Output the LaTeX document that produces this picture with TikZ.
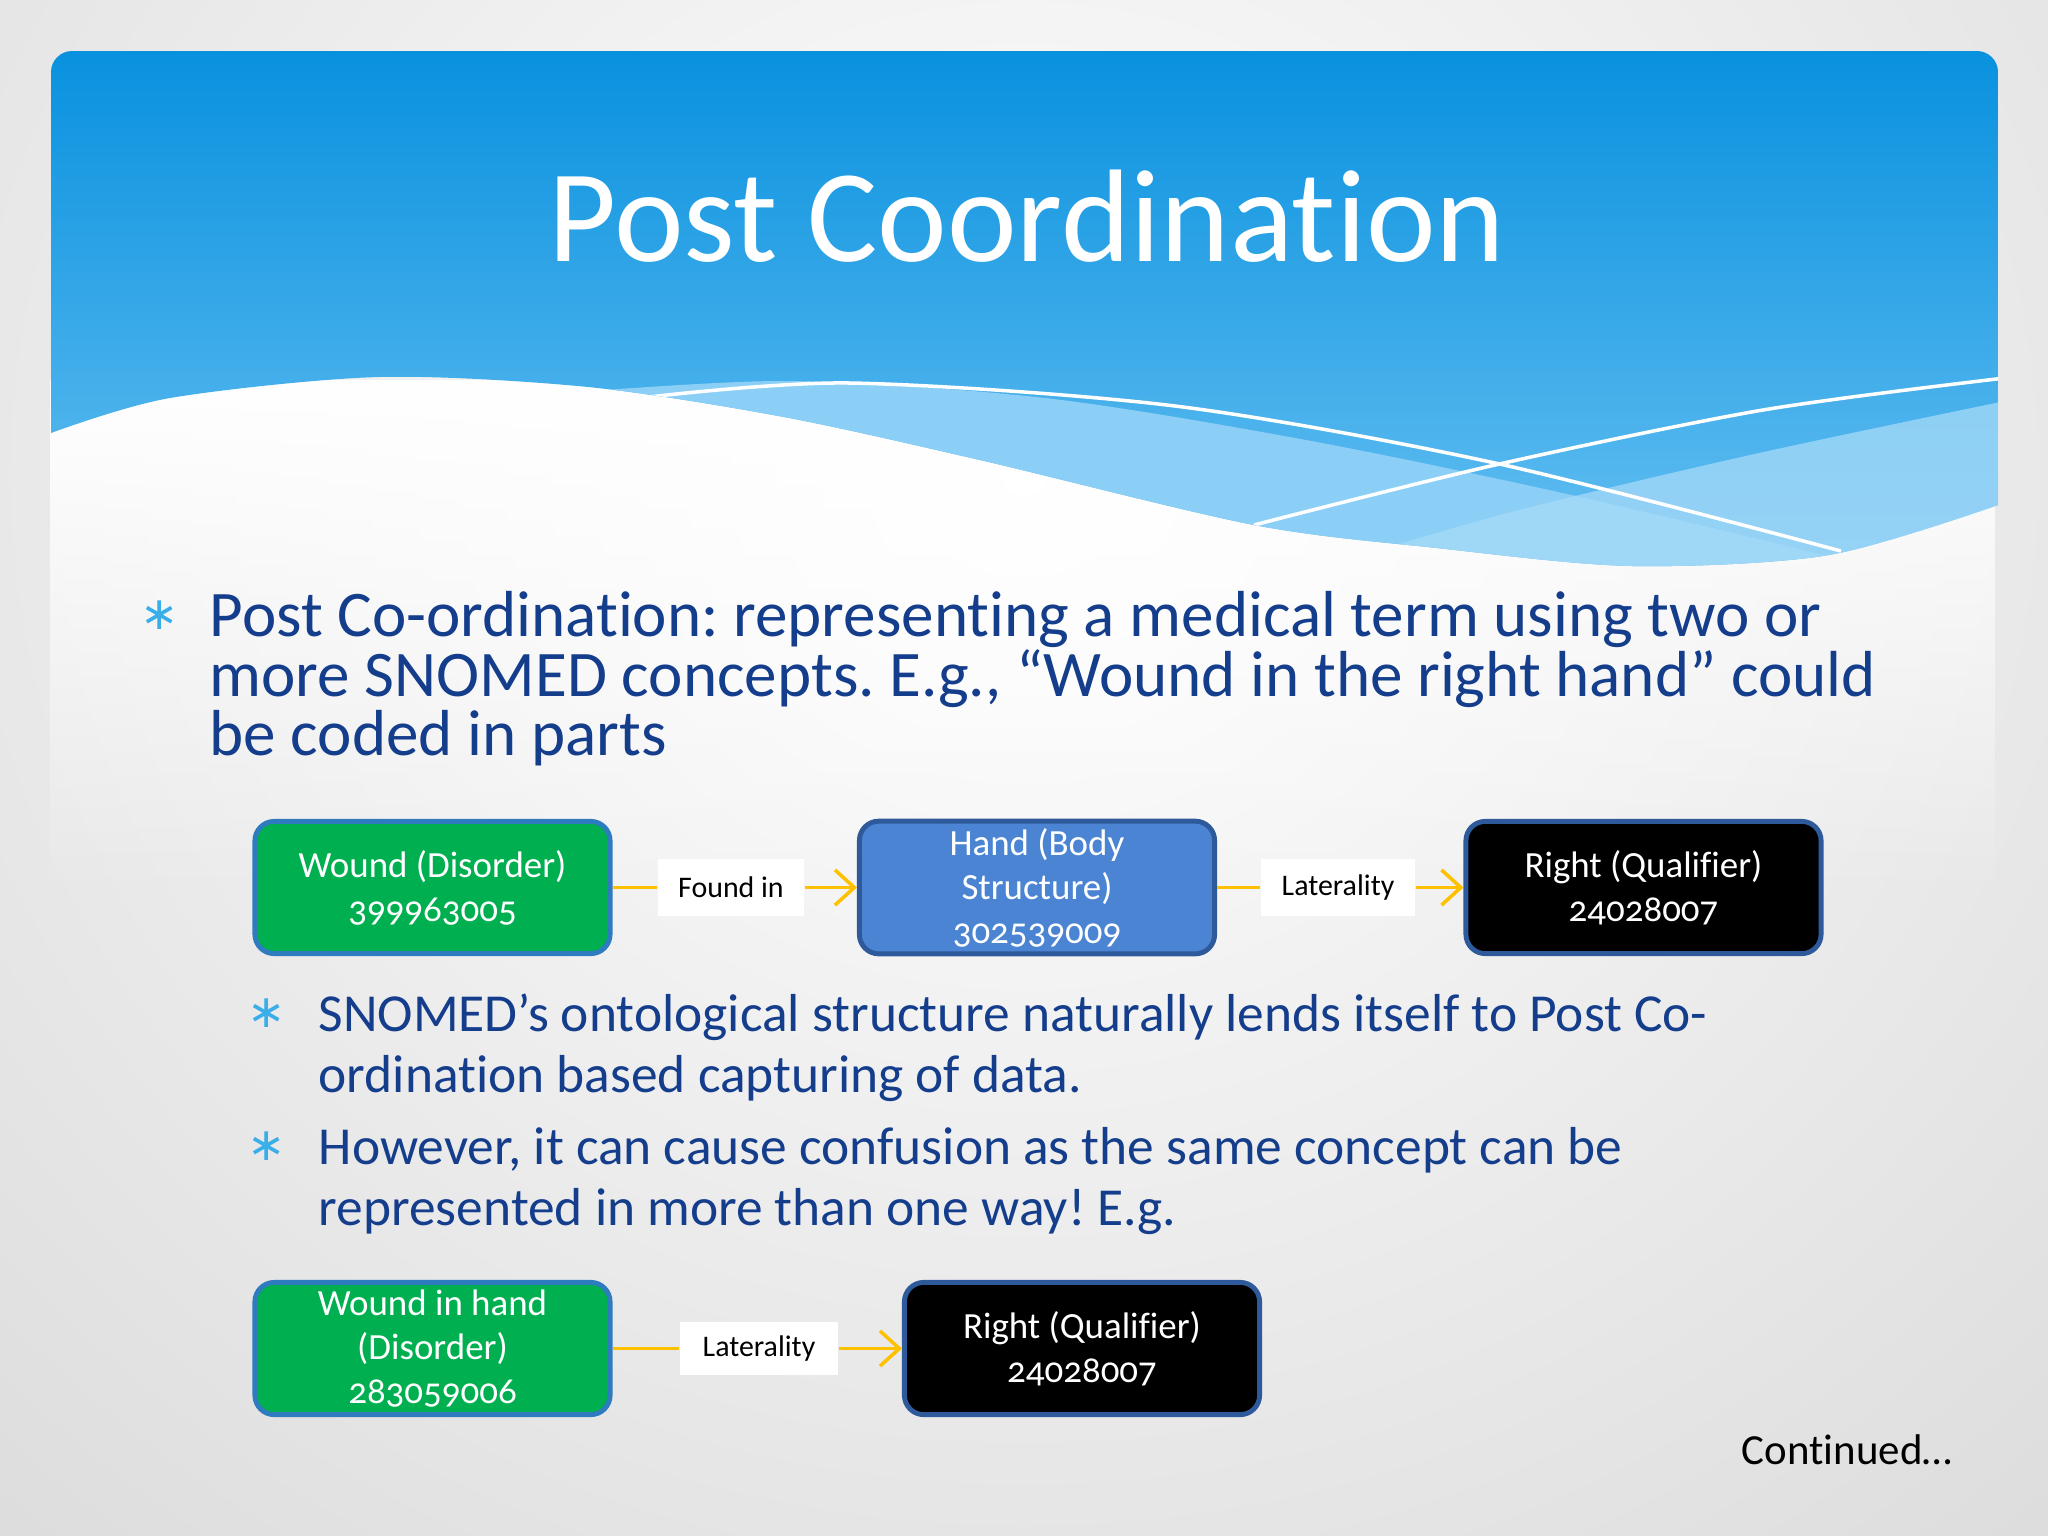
\documentclass[tikz,border=0pt]{standalone}
\usepackage{fontspec}
\setmainfont{Carlito}[Numbers=OldStyle, Ligatures=NoCommon]
\newfontfamily\symfont{DejaVu Sans}
\usetikzlibrary{arrows.meta,fadings}
\frenchspacing
\definecolor{bandtop}{HTML}{0790DE}
\definecolor{bandbot}{HTML}{66C0F2}
\definecolor{ribA}{HTML}{8CCFF6}
\definecolor{ribB}{HTML}{A6DAF8}
\definecolor{txtblue}{HTML}{143D8C}
\definecolor{astblue}{HTML}{3AAEE8}
\definecolor{boxgreen}{HTML}{00B050}
\definecolor{greenedge}{HTML}{2E7BC0}
\definecolor{handfill}{HTML}{4A84D2}
\definecolor{darkedge}{HTML}{2E5A9C}
\definecolor{arrowyel}{HTML}{FFC000}
\tikzset{
  conceptbox/.style={rectangle, rounded corners=5.5pt, line width=1.4pt,
    minimum width=101pt, minimum height=37.6pt, inner sep=2pt,
    text=white, align=center, font=\fontsize{10.5}{12.5}\selectfont},
  greenbox/.style={conceptbox, fill=boxgreen, draw=greenedge},
  bluebox/.style={conceptbox, fill=handfill, draw=darkedge},
  blackbox/.style={conceptbox, fill=black, draw=darkedge},
  rellabel/.style={rectangle, fill=white, inner sep=0pt, minimum height=16pt,
    text=black, font=\fontsize{8.5}{10}\selectfont},
  conn/.style={draw=arrowyel, line width=1pt},
  connarrow/.style={conn, -{Straight Barb[length=5.5pt,width=10pt]}},
  mainline/.style={anchor=base west, inner sep=0pt, text=txtblue,
    font=\fontsize{18.5}{20}\selectfont\frenchspacing},
  subline/.style={anchor=base west, inner sep=0pt, text=txtblue,
    font=\fontsize{15.2}{16}\selectfont\frenchspacing},
  bulletmark/.style={inner sep=0pt, text=astblue, font=\symfont\fontsize{13}{13}\selectfont},
  waveline/.style={draw=white, line width=1pt}
}
\begin{document}
\begin{tikzpicture}[x=0.01cm,y=-0.01cm]
\useasboundingbox (0,0) rectangle (2048,1536);
% background
\begin{scope}
\clip (0,0) rectangle (2048,1536);
\fill[white] (0,0) rectangle (2048,1536);
\shade[inner color=white, outer color=black!15] (-700,-1100) rectangle (2748,2050);
\fill[white, path fading=south] (51,380) rectangle (1998,900);
\end{scope}
% header band
\begin{scope}
\clip (51,433) [rounded corners=6pt] -- (51,51) -- (1998,51) [sharp corners] -- (1998,505)
  -- plot[smooth] coordinates {(1998,505) (1829,555) (1632,566) (1437,548) (1254,525) (980,460) (784,417) (588,387) (379,377) (170,398) (51,433)} -- cycle;
\shade[top color=bandtop, bottom color=bandbot] (40,40) rectangle (2010,580);
\fill[ribA] plot[smooth] coordinates {(540,395) (784,381) (1045,398) (1306,440) (1567,494) (1845,560)} -- (1845,700) -- (540,700) -- cycle;
\fill[ribB, opacity=0.75] plot[smooth] coordinates {(1280,580) (1500,515) (1750,455) (2010,400)} -- (2010,700) -- (1280,700) -- cycle;
\draw[waveline] plot[smooth] coordinates {(640,398) (849,383) (1175,406) (1495,463) (1841,551)};
\draw[waveline] plot[smooth] coordinates {(1254,525) (1495,465) (1763,410) (2005,378)};
\end{scope}
% title
\node[anchor=base, inner sep=0pt, text=white, font=\fontsize{37.5}{40}\selectfont] (title) at (1027,261) {Post Coordination};
% main bullet
\node[bulletmark] (b1) at (160,615) {∗};
\node[mainline] (l1) at (209,636) {Post Co-ordination: representing a medical term using two or};
\node[mainline] (l2) at (209,696) {more SNOMED concepts. E.g., “Wound in the right hand” could};
\node[mainline] (l3) at (209,755) {be coded in parts};
% first diagram
\node[greenbox] (wound) at (432.5,887.5) {Wound (Disorder)\\399963005};
\node[bluebox] (hand) at (1037,887.5) {Hand (Body\\Structure)\\302539009};
\node[blackbox] (right) at (1643.5,887.5) {Right (Qualifier)\\24028007};
\node[rellabel, minimum width=41.5pt] (found) at (731,887.5) {Found in};
\node[rellabel, minimum width=44pt] (lat) at (1338,887.5) {Laterality};
\draw[conn] (wound) -- (found);
\draw[connarrow] (found) -- (hand);
\draw[conn] (hand) -- (lat);
\draw[connarrow] (lat) -- (right);
% sub bullets
\node[bulletmark] (b2) at (267,1013) {∗};
\node[subline] (s1) at (318,1031) {SNOMED’s ontological structure naturally lends itself to Post Co-};
\node[subline] (s2) at (318,1092) {ordination based capturing of data.};
\node[bulletmark] (b3) at (267,1146) {∗};
\node[subline] (s3) at (318,1164) {However, it can cause confusion as the same concept can be};
\node[subline] (s4) at (318,1225) {represented in more than one way! E.g.};
% second diagram
\node[greenbox] (woundhand) at (432.5,1348.5) {Wound in hand\\(Disorder)\\283059006};
\node[blackbox] (right2) at (1082,1348.5) {Right (Qualifier)\\24028007};
\node[rellabel, minimum width=45pt, minimum height=15pt] (lat2) at (759,1348.5) {Laterality};
\draw[conn] (woundhand) -- (lat2);
\draw[connarrow] (lat2) -- (right2);
% continued
\node[anchor=base east, inner sep=0pt, text=black, font=\fontsize{12.2}{15}\selectfont] (cont) at (1953,1464) {Continued…};
\end{tikzpicture}
\end{document}
